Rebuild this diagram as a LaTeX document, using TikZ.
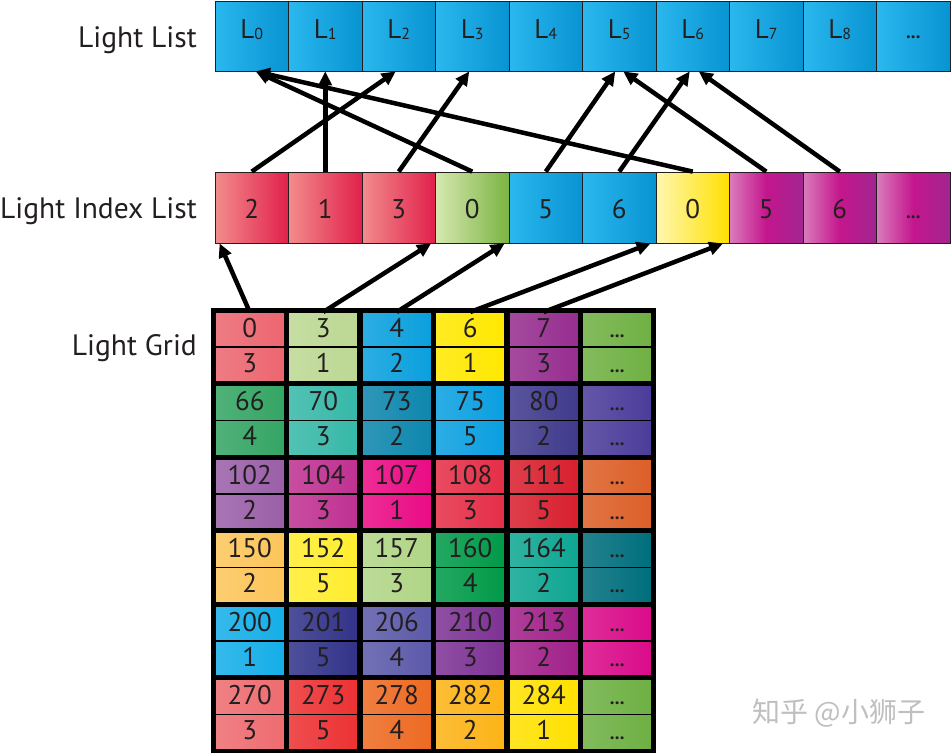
\documentclass[tikz,border=0pt]{standalone}
\usepackage{fontspec}
\setmainfont{PT Sans}
\newfontfamily\cjk{Noto Sans CJK SC}
\usepackage{tikz}
\usetikzlibrary{arrows.meta}
\usepackage{xcolor}

\definecolor{txtdark}{HTML}{231F20}
\definecolor{lblueA}{HTML}{2AB8EE}
\definecolor{lblueB}{HTML}{0893D2}
\definecolor{iredA}{HTML}{F28C8C}
\definecolor{iredB}{HTML}{E1204B}
\definecolor{igreenA}{HTML}{D6E8B0}
\definecolor{igreenB}{HTML}{7BB443}
\definecolor{iyellowA}{HTML}{FFF7B0}
\definecolor{iyellowB}{HTML}{FFE000}
\definecolor{imagA}{HTML}{DA7CBC}
\definecolor{imagM}{HTML}{C4168D}
\definecolor{imagB}{HTML}{A1268F}
% grid colours, row by row
\definecolor{gc00}{HTML}{EC6670}
\definecolor{gc01}{HTML}{BCD893}
\definecolor{gc02}{HTML}{0AA0DD}
\definecolor{gc03}{HTML}{FFE800}
\definecolor{gc04}{HTML}{962D8F}
\definecolor{gc05}{HTML}{6FB043}
\definecolor{gc10}{HTML}{34A564}
\definecolor{gc11}{HTML}{36B8A8}
\definecolor{gc12}{HTML}{0D86AD}
\definecolor{gc13}{HTML}{0A9FE0}
\definecolor{gc14}{HTML}{3F3A8C}
\definecolor{gc15}{HTML}{4B3C9A}
\definecolor{gc20}{HTML}{9A5FA8}
\definecolor{gc21}{HTML}{BF3191}
\definecolor{gc22}{HTML}{EA0B85}
\definecolor{gc23}{HTML}{E52E47}
\definecolor{gc24}{HTML}{D81F2E}
\definecolor{gc25}{HTML}{DC5F27}
\definecolor{gc30}{HTML}{FDC55A}
\definecolor{gc31}{HTML}{FFED2E}
\definecolor{gc32}{HTML}{B0D586}
\definecolor{gc33}{HTML}{009A48}
\definecolor{gc34}{HTML}{0EA692}
\definecolor{gc35}{HTML}{006E7C}
\definecolor{gc40}{HTML}{15AEE8}
\definecolor{gc41}{HTML}{323389}
\definecolor{gc42}{HTML}{5C5AA9}
\definecolor{gc43}{HTML}{7D3294}
\definecolor{gc44}{HTML}{A12089}
\definecolor{gc45}{HTML}{DA0B8A}
\definecolor{gc50}{HTML}{EE6C70}
\definecolor{gc51}{HTML}{EC3133}
\definecolor{gc52}{HTML}{ED6A22}
\definecolor{gc53}{HTML}{FCB316}
\definecolor{gc54}{HTML}{FFE100}
\definecolor{gc55}{HTML}{6EB043}

\newcommand{\Lsub}[1]{L\raisebox{-1.5pt}{\fontsize{16}{16}\selectfont #1}}
\newcommand{\moredots}{{\fontsize{19}{19}\selectfont\bfseries ...}}

\begin{document}
\begin{tikzpicture}[x=1pt,y=-1pt,
  lbl/.style={anchor=base east,inner sep=0pt,text=txtdark,font=\fontsize{29.5}{31}\selectfont},
  lcell/.style={draw=txtdark,line width=0.8pt,minimum width=73.5pt,minimum height=70pt,inner sep=0pt,
    text height=4pt,text depth=0pt,text=txtdark,font=\fontsize{27}{29}\selectfont,
    left color=lblueA,right color=lblueB},
  icell/.style={lcell,minimum height=71pt,text height=21pt},
  redc/.style={left color=iredA,right color=iredB},
  greenc/.style={left color=igreenA,right color=igreenB},
  bluec/.style={left color=lblueA,right color=lblueB},
  yellowc/.style={left color=iyellowA,right color=iyellowB},
  magc/.style={left color=imagA,right color=imagB,middle color=imagM},
  gtop/.style={draw=black,line width=1.5pt,minimum width=69.5pt,minimum height=35pt,inner sep=0pt,outer sep=0pt,
    text height=15pt,text depth=0pt,text=txtdark,font=\fontsize{27}{29}\selectfont},
  gbot/.style={gtop},
  gc/.style={left color=#1!86!white,right color=#1},
  arr/.style={line width=4.5pt,-{Triangle[length=14pt,width=13pt]}},
  wm/.style={text=black!25,font=\cjk\fontsize{28}{30}\selectfont,inner sep=0pt}]
\useasboundingbox (0,0) rectangle (951,753);

% labels
\node[lbl] (llist) at (197,47) {Light List};
\node[lbl] (ilist) at (197,218) {Light Index List};
\node[lbl] (lgrid) at (197,355) {Light Grid};

% light list
\node[lcell] (L0) at (251.75,36) {\Lsub{0}};
\node[lcell] (L1) at (325.25,36) {\Lsub{1}};
\node[lcell] (L2) at (398.75,36) {\Lsub{2}};
\node[lcell] (L3) at (472.25,36) {\Lsub{3}};
\node[lcell] (L4) at (545.75,36) {\Lsub{4}};
\node[lcell] (L5) at (619.25,36) {\Lsub{5}};
\node[lcell] (L6) at (692.75,36) {\Lsub{6}};
\node[lcell] (L7) at (766.25,36) {\Lsub{7}};
\node[lcell] (L8) at (839.75,36) {\Lsub{8}};
\node[lcell] (L9) at (913.25,36) {\moredots};

% light index list
\node[icell,redc] (I0) at (251.75,207.5) {2};
\node[icell,redc] (I1) at (325.25,207.5) {1};
\node[icell,redc] (I2) at (398.75,207.5) {3};
\node[icell,greenc] (I3) at (472.25,207.5) {0};
\node[icell,bluec] (I4) at (545.75,207.5) {5};
\node[icell,bluec] (I5) at (619.25,207.5) {6};
\node[icell,yellowc] (I6) at (692.75,207.5) {0};
\node[icell,magc] (I7) at (766.25,207.5) {5};
\node[icell,magc] (I8) at (839.75,207.5) {6};
\node[icell,magc] (I9) at (913.25,207.5) {\moredots};

% light grid
\fill[black] (211,308) rectangle (656,753);
\node[gtop,gc=gc00] (g00) at (249.75,329.5) {0};
\node[gbot,gc=gc00] (g00b) at (249.75,364.5) {3};
\node[gtop,gc=gc01] (g01) at (323.25,329.5) {3};
\node[gbot,gc=gc01] (g01b) at (323.25,364.5) {1};
\node[gtop,gc=gc02] (g02) at (396.75,329.5) {4};
\node[gbot,gc=gc02] (g02b) at (396.75,364.5) {2};
\node[gtop,gc=gc03] (g03) at (470.25,329.5) {6};
\node[gbot,gc=gc03] (g03b) at (470.25,364.5) {1};
\node[gtop,gc=gc04] (g04) at (543.75,329.5) {7};
\node[gbot,gc=gc04] (g04b) at (543.75,364.5) {3};
\node[gtop,gc=gc05] (g05) at (617.25,329.5) {\moredots};
\node[gbot,gc=gc05] (g05b) at (617.25,364.5) {\moredots};

\node[gtop,gc=gc10] (g10) at (249.75,403) {66};
\node[gbot,gc=gc10] (g10b) at (249.75,438) {4};
\node[gtop,gc=gc11] (g11) at (323.25,403) {70};
\node[gbot,gc=gc11] (g11b) at (323.25,438) {3};
\node[gtop,gc=gc12] (g12) at (396.75,403) {73};
\node[gbot,gc=gc12] (g12b) at (396.75,438) {2};
\node[gtop,gc=gc13] (g13) at (470.25,403) {75};
\node[gbot,gc=gc13] (g13b) at (470.25,438) {5};
\node[gtop,gc=gc14] (g14) at (543.75,403) {80};
\node[gbot,gc=gc14] (g14b) at (543.75,438) {2};
\node[gtop,gc=gc15] (g15) at (617.25,403) {\moredots};
\node[gbot,gc=gc15] (g15b) at (617.25,438) {\moredots};

\node[gtop,gc=gc20] (g20) at (249.75,476.5) {102};
\node[gbot,gc=gc20] (g20b) at (249.75,511.5) {2};
\node[gtop,gc=gc21] (g21) at (323.25,476.5) {104};
\node[gbot,gc=gc21] (g21b) at (323.25,511.5) {3};
\node[gtop,gc=gc22] (g22) at (396.75,476.5) {107};
\node[gbot,gc=gc22] (g22b) at (396.75,511.5) {1};
\node[gtop,gc=gc23] (g23) at (470.25,476.5) {108};
\node[gbot,gc=gc23] (g23b) at (470.25,511.5) {3};
\node[gtop,gc=gc24] (g24) at (543.75,476.5) {111};
\node[gbot,gc=gc24] (g24b) at (543.75,511.5) {5};
\node[gtop,gc=gc25] (g25) at (617.25,476.5) {\moredots};
\node[gbot,gc=gc25] (g25b) at (617.25,511.5) {\moredots};

\node[gtop,gc=gc30] (g30) at (249.75,550) {150};
\node[gbot,gc=gc30] (g30b) at (249.75,585) {2};
\node[gtop,gc=gc31] (g31) at (323.25,550) {152};
\node[gbot,gc=gc31] (g31b) at (323.25,585) {5};
\node[gtop,gc=gc32] (g32) at (396.75,550) {157};
\node[gbot,gc=gc32] (g32b) at (396.75,585) {3};
\node[gtop,gc=gc33] (g33) at (470.25,550) {160};
\node[gbot,gc=gc33] (g33b) at (470.25,585) {4};
\node[gtop,gc=gc34] (g34) at (543.75,550) {164};
\node[gbot,gc=gc34] (g34b) at (543.75,585) {2};
\node[gtop,gc=gc35] (g35) at (617.25,550) {\moredots};
\node[gbot,gc=gc35] (g35b) at (617.25,585) {\moredots};

\node[gtop,gc=gc40] (g40) at (249.75,623.5) {200};
\node[gbot,gc=gc40] (g40b) at (249.75,658.5) {1};
\node[gtop,gc=gc41] (g41) at (323.25,623.5) {201};
\node[gbot,gc=gc41] (g41b) at (323.25,658.5) {5};
\node[gtop,gc=gc42] (g42) at (396.75,623.5) {206};
\node[gbot,gc=gc42] (g42b) at (396.75,658.5) {4};
\node[gtop,gc=gc43] (g43) at (470.25,623.5) {210};
\node[gbot,gc=gc43] (g43b) at (470.25,658.5) {3};
\node[gtop,gc=gc44] (g44) at (543.75,623.5) {213};
\node[gbot,gc=gc44] (g44b) at (543.75,658.5) {2};
\node[gtop,gc=gc45] (g45) at (617.25,623.5) {\moredots};
\node[gbot,gc=gc45] (g45b) at (617.25,658.5) {\moredots};

\node[gtop,gc=gc50] (g50) at (249.75,697) {270};
\node[gbot,gc=gc50] (g50b) at (249.75,732) {3};
\node[gtop,gc=gc51] (g51) at (323.25,697) {273};
\node[gbot,gc=gc51] (g51b) at (323.25,732) {5};
\node[gtop,gc=gc52] (g52) at (396.75,697) {278};
\node[gbot,gc=gc52] (g52b) at (396.75,732) {4};
\node[gtop,gc=gc53] (g53) at (470.25,697) {282};
\node[gbot,gc=gc53] (g53b) at (470.25,732) {2};
\node[gtop,gc=gc54] (g54) at (543.75,697) {284};
\node[gbot,gc=gc54] (g54b) at (543.75,732) {1};
\node[gtop,gc=gc55] (g55) at (617.25,697) {\moredots};
\node[gbot,gc=gc55] (g55b) at (617.25,732) {\moredots};

% grid -> index list
\draw[arr] (g00.north) -- ([xshift=5pt]I0.south west);
\draw[arr] (g01.north) -- ([xshift=-4pt]I3.south west);
\draw[arr] (g02.north) -- ([xshift=-4pt]I4.south west);
\draw[arr] (g03.north) -- ([xshift=-5pt]I6.south west);
\draw[arr] (g04.north) -- ([xshift=-6pt]I7.south west);

% index list -> light list
\draw[arr] (I0.north) -- ([xshift=-3pt]L2.south);
\draw[arr] (I1.north) -- (L1.south);
\draw[arr] (I2.north) -- ([xshift=-3pt]L3.south);
\draw[arr] (I3.north) -- ([xshift=4pt]L0.south);
\draw[arr] (I4.north) -- ([xshift=-4pt]L5.south);
\draw[arr] (I5.north) -- ([xshift=-3pt]L6.south);
\draw[arr] (I6.north) -- ([xshift=4pt]L0.south);
\draw[arr] (I7.north) -- ([xshift=4pt]L5.south);
\draw[arr] (I8.north) -- ([xshift=6pt]L6.south);

\node[wm] (wmark) at (839,713) {知乎 @小狮子};
\end{tikzpicture}
\end{document}
